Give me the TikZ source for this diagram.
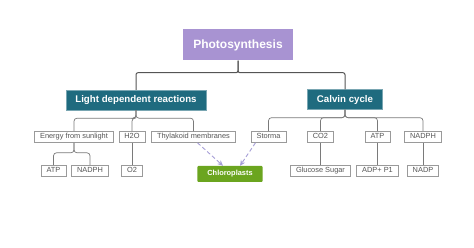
\documentclass[tikz,border=0pt]{standalone}
\usepackage{fontspec}
\setmainfont{Liberation Sans}
\usepackage{tikz}
\usetikzlibrary{positioning,arrows.meta}
\definecolor{lila}{HTML}{A893D2}
\definecolor{petroleo}{HTML}{1F6B7F}
\definecolor{hojaverde}{HTML}{6BA51F}
\definecolor{tinta}{HTML}{555555}
\definecolor{borde}{HTML}{9A9A9A}
\definecolor{linea}{HTML}{7A7A7A}
\definecolor{guion}{HTML}{A69ED6}

\begin{document}
\begin{tikzpicture}[
  x=1pt, y=1pt,
  raiz/.style={rectangle, fill=lila, text=white, font=\bfseries\fontsize{12}{14}\selectfont, minimum height=31pt, inner xsep=10.5pt},
  rama/.style={rectangle, fill=petroleo, draw=petroleo!60, text=white, font=\bfseries\fontsize{9.7}{11}\selectfont, minimum height=20pt, inner xsep=9.5pt},
  hoja/.style={rectangle, fill=white, draw=borde, line width=0.6pt, text=tinta, font=\fontsize{7.4}{8}\selectfont, text height=5.4pt, text depth=1.6pt, inner ysep=2pt, inner xsep=5.5pt},
  destino/.style={rectangle, rounded corners=1pt, fill=hojaverde, text=white, font=\bfseries\fontsize{7.4}{8}\selectfont, minimum height=16pt, inner xsep=10pt},
  enlace/.style={draw=linea, line width=0.7pt, rounded corners=3pt},
  tronco/.style={draw=tinta, line width=1pt, rounded corners=2pt},
  salto/.style={-{Stealth[length=5.5pt, width=5pt]}, guion, line width=0.9pt, dash pattern=on 4pt off 2.5pt},
  node distance=22pt]
  \useasboundingbox (0,0) rectangle (474,248);
  % raiz y ramas
  \node[raiz] (photo) at (238,203) {Photosynthesis};
  \node[rama] (luz) at (136,148) {Light dependent reactions};
  \node[rama] (calvin) at (345,148.5) {Calvin cycle};
  % primera fila
  \node[hoja] (energy) at (74,111) {Energy from sunlight};
  \node[hoja] (h2o) at (132,111) {H2O};
  \node[hoja] (thyl) at (193.5,111) {Thylakoid membranes};
  \node[hoja] (storma) at (268.5,111) {Storma};
  \node[hoja] (co2) at (320.5,111) {CO2};
  \node[hoja] (atpR) at (377.5,111) {ATP};
  \node[hoja] (nadphR) at (423,111) {NADPH};
  % segunda fila
  \node[hoja] (atpL) at (53.5,77) {ATP};
  \node[hoja] (nadphL) at (90,77) {NADPH};
  \node[hoja, below=of h2o] (o2) {O2};
  \node[hoja, below=of co2] (glucose) {Glucose Sugar};
  \node[hoja, below=of atpR] (adp) {ADP+ P1};
  \node[hoja, below=of nadphR] (nadp) {NADP};
  \node[destino] (chloro) at (230,74) {Chloroplasts};
  % conectores
  \draw[tronco] (photo.south) -- ++(0,-12) -| (luz.north);
  \draw[tronco] (photo.south) -- ++(0,-12) -| (calvin.north);
  \foreach \h in {energy,h2o,thyl}
    \draw[enlace] (luz.south) -- ++(0,-8) -| (\h.north);
  \foreach \h in {storma,co2,atpR,nadphR}
    \draw[enlace] (calvin.south) -- ++(0,-8) -| (\h.north);
  \foreach \h in {atpL,nadphL}
    \draw[enlace] (energy.south) -- ++(0,-10) -| (\h.north);
  \draw[enlace] (h2o) -- (o2);
  \draw[enlace] (co2) -- (glucose);
  \draw[enlace] (atpR) -- (adp);
  \draw[enlace] (nadphR) -- (nadp);
  \draw[salto] ([xshift=4pt]thyl.south) -- ([xshift=-7pt]chloro.north);
  \draw[salto] ([xshift=-13pt]storma.south) -- ([xshift=10pt]chloro.north);
\end{tikzpicture}
\end{document}
